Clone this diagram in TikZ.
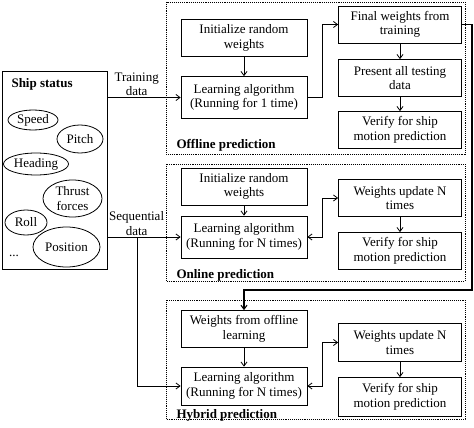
\documentclass[tikz,border=0pt]{standalone}
\usepackage{fontspec}
\setmainfont{Liberation Serif}
\usepackage{tikz}
\usetikzlibrary{positioning,shapes,arrows.meta}
\newcommand{\figfont}{\fontsize{13}{14.5}\selectfont}

\begin{document}
\begin{tikzpicture}[x=1pt, y=-1pt, font=\figfont,
  block/.style={draw, line width=0.8pt, align=center, minimum width=126pt, minimum height=37pt, inner sep=1pt},
  rblock/.style={block, minimum width=123pt},
  lblock/.style={block, minimum height=42pt},
  param/.style={draw, ellipse, line width=0.8pt, inner sep=0pt, align=center},
  group/.style={draw, densely dotted, line width=0.9pt},
  title/.style={font=\figfont\bfseries, anchor=base west},
  flow/.style={-{Straight Barb[length=4pt,width=6pt]}, line width=0.8pt},
  both/.style={{Straight Barb[length=4pt,width=6pt]}-{Straight Barb[length=4pt,width=6pt]}, line width=0.8pt}]
  \useasboundingbox (0,0) rectangle (474,428);

  % the three prediction modes
  \draw[group] (166,2) rectangle (465,154);
  \draw[group] (166,164) rectangle (465,281);
  \draw[group] (166,300) rectangle (465,419);

  % ship status
  \node[draw, line width=0.8pt, minimum width=105pt, minimum height=198pt] (ship) at (54.5,170) {};
  \node[title] (shiplbl) at (8,88) {Ship status};
  \node[param, minimum width=50pt, minimum height=20pt] (speed) at (33,120) {Speed};
  \node[param, minimum width=46pt, minimum height=28pt] (pitch) at (80,139) {Pitch};
  \node[param, minimum width=65pt, minimum height=22pt] (heading) at (36,164) {Heading};
  \node[param, minimum width=59pt, minimum height=37pt, inner sep=-2pt] (thrust) at (72.5,198.5) {Thrust\\forces};
  \node[param, minimum width=42pt, minimum height=25pt] (roll) at (26,222.5) {Roll};
  \node[param, minimum width=67pt, minimum height=40pt] (position) at (66.5,247) {Position};
  \node (more) at (14,256) {...};

  % offline
  \node[block] (init1) at (244,38) {Initialize random\\weights};
  \node[lblock] (learn1) at (244,97.5) {Learning algorithm\\(Running for 1 time)};
  \node[rblock] (final1) at (400,24.5) {Final weights from\\training};
  \node[rblock] (test1) at (400,78) {Present all testing\\data};
  \node[rblock] (verify1) at (400,130) {Verify for ship\\motion prediction};
  \node[title] (offlbl) at (173,148) {Offline prediction};

  % online
  \node[block] (init2) at (244,186.5) {Initialize random\\weights};
  \node[lblock] (learn2) at (244,237) {Learning algorithm\\(Running for N times)};
  \node[rblock] (update2) at (400,198) {Weights update N\\times};
  \node[rblock] (verify2) at (400,251) {Verify for ship\\motion prediction};
  \node[title] (onlbl) at (173,278) {Online prediction};

  % hybrid
  \node[block] (offw3) at (244,329) {Weights from offline\\learning};
  \node[block, minimum height=38pt] (learn3) at (244,386) {Learning algorithm\\(Running for N times)};
  \node[rblock, minimum height=38pt] (update3) at (400,342.5) {Weights update N\\times};
  \node[rblock, minimum height=39pt] (verify3) at (400,397) {Verify for ship\\motion prediction};
  \node[title] (hyblbl) at (173,418) {Hybrid prediction};

  \coordinate (split) at (137,237);
  \coordinate (turn) at (472,290);

  \draw[flow] (ship.east |- learn1.west) -- node[above, pos=0.4, align=center, inner sep=1pt] {Training\\data} (learn1.west);
  \draw[flow] (ship.east |- learn2.west) -- node[above, pos=0.4, align=center, inner sep=1pt] {Sequential\\data} (learn2.west);
  \draw[flow] (split) |- (learn3.west);

  \draw[flow] (init1) -- (learn1);
  \draw[flow] (learn1.east) -- ++(15,0) |- (final1.west);
  \draw[flow] (final1) -- (test1);
  \draw[flow] (test1) -- (verify1);
  \draw[flow, line width=1.1pt] (final1.east) -| (turn) -| (offw3.north);

  \draw[flow] (init2) -- (learn2);
  \draw[both] (learn2.east) -- ++(15,0) |- (update2.west);
  \draw[flow] (update2) -- (verify2);

  \draw[flow] (offw3) -- (learn3);
  \draw[both] (learn3.east) -- ++(15,0) |- (update3.west);
  \draw[flow] (update3) -- (verify3);
\end{tikzpicture}
\end{document}
